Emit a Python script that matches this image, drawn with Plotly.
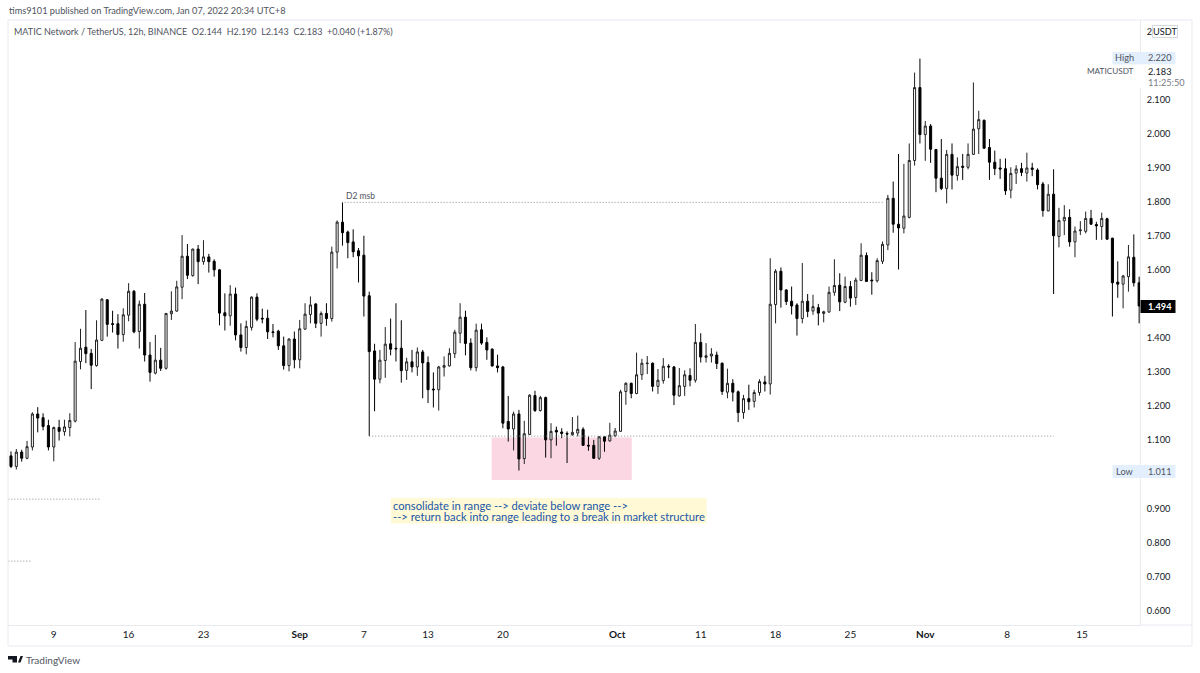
import plotly.graph_objects as go

# MATICUSDT 12h candles
opens = [1.054,1.023,1.065,1.047,1.080,1.177,1.166,1.143,1.080,1.137,
         1.125,1.137,1.156,1.331,1.373,1.355,1.319,1.393,1.512,1.442,
         1.442,1.410,1.467,1.537,1.419,1.499,1.350,1.297,1.335,1.311,
         1.471,1.479,1.549,1.640,1.583,1.661,1.624,1.638,1.625,1.600,
         1.474,1.465,1.529,1.409,1.372,1.431,1.520,1.458,1.458,1.418,
         1.420,1.377,1.319,1.397,1.336,1.426,1.469,1.500,1.443,1.472,
         1.457,1.652,1.740,1.711,1.682,1.656,1.643,1.524,1.362,1.279,
         1.334,1.383,1.370,1.370,1.305,1.330,1.315,1.359,1.328,1.250,
         1.248,1.314,1.318,1.354,1.414,1.461,1.385,1.313,1.424,1.387,
         1.367,1.318,1.315,1.155,1.133,1.177,1.046,1.117,1.231,1.187,
         1.225,1.101,1.129,1.124,1.120,1.116,1.121,1.132,1.085,1.085,
         1.047,1.110,1.098,1.113,1.126,1.243,1.267,1.237,1.292,1.325,
         1.326,1.258,1.275,1.317,1.315,1.230,1.258,1.290,1.276,1.387,
         1.343,1.347,1.350,1.326,1.241,1.267,1.242,1.181,1.222,1.214,
         1.240,1.271,1.265,1.498,1.596,1.541,1.508,1.497,1.457,1.508,
         1.479,1.489,1.472,1.476,1.534,1.555,1.505,1.551,1.519,1.569,
         1.642,1.570,1.568,1.625,1.673,1.810,1.734,1.722,1.754,1.921,
         2.135,1.997,2.022,1.953,1.869,1.839,1.939,1.877,1.904,1.901,
         1.939,2.014,2.039,1.959,1.916,1.899,1.897,1.834,1.884,1.897,
         1.884,1.899,1.893,1.852,1.773,1.822,1.698,1.744,1.754,1.682,
         1.715,1.713,1.751,1.733,1.727,1.750,1.693,1.564,1.558,1.580,
         1.637,1.562]
highs = [1.067,1.074,1.072,1.098,1.182,1.197,1.179,1.160,1.140,1.160,
         1.160,1.179,1.388,1.427,1.482,1.368,1.452,1.517,1.514,1.480,
         1.470,1.487,1.561,1.541,1.510,1.532,1.388,1.409,1.371,1.473,
         1.537,1.568,1.702,1.676,1.662,1.673,1.687,1.647,1.631,1.602,
         1.531,1.555,1.548,1.443,1.451,1.522,1.531,1.486,1.483,1.441,
         1.424,1.404,1.399,1.419,1.453,1.502,1.522,1.502,1.478,1.502,
         1.668,1.745,1.798,1.715,1.719,1.664,1.700,1.536,1.383,1.365,
         1.432,1.457,1.502,1.452,1.342,1.365,1.372,1.365,1.346,1.299,
         1.318,1.346,1.370,1.424,1.502,1.480,1.399,1.442,1.442,1.402,
         1.370,1.351,1.318,1.230,1.184,1.189,1.157,1.235,1.245,1.230,
         1.228,1.150,1.140,1.135,1.126,1.168,1.172,1.138,1.111,1.101,
         1.111,1.111,1.151,1.136,1.248,1.270,1.269,1.357,1.339,1.347,
         1.328,1.309,1.341,1.323,1.318,1.312,1.305,1.311,1.441,1.414,
         1.385,1.370,1.360,1.328,1.310,1.279,1.246,1.233,1.263,1.248,
         1.279,1.289,1.634,1.602,1.607,1.543,1.551,1.502,1.620,1.529,
         1.527,1.500,1.480,1.551,1.631,1.590,1.580,1.567,1.577,1.678,
         1.651,1.593,1.634,1.683,1.820,1.859,1.940,1.911,1.971,2.179,
         2.220,2.037,2.028,1.955,1.984,1.952,1.971,1.930,1.940,1.971,
         2.150,2.067,2.041,1.984,1.950,1.926,1.927,1.901,1.907,1.914,
         1.944,1.914,1.898,1.858,1.851,1.895,1.782,1.790,1.778,1.727,
         1.743,1.771,1.776,1.741,1.768,1.753,1.694,1.625,1.585,1.673,
         1.704,1.580]
lows = [1.018,1.014,1.037,1.044,1.070,1.123,1.129,1.070,1.038,1.099,
        1.113,1.111,1.152,1.308,1.326,1.250,1.316,1.391,1.404,1.416,
        1.369,1.389,1.449,1.414,1.369,1.331,1.272,1.293,1.303,1.307,
        1.453,1.477,1.514,1.573,1.580,1.558,1.615,1.592,1.580,1.437,
        1.422,1.436,1.393,1.360,1.352,1.422,1.449,1.443,1.397,1.402,
        1.365,1.307,1.302,1.311,1.311,1.424,1.443,1.429,1.404,1.436,
        1.448,1.604,1.671,1.634,1.637,1.563,1.463,1.112,1.185,1.267,
        1.283,1.349,1.331,1.269,1.277,1.299,1.289,1.223,1.209,1.196,
        1.187,1.287,1.316,1.341,1.385,1.349,1.305,1.302,1.380,1.336,
        1.316,1.299,1.135,1.096,1.070,1.011,1.030,1.115,1.183,1.184,
        1.049,1.047,1.084,1.106,1.033,1.113,1.111,1.084,1.069,1.045,
        1.042,1.066,1.096,1.109,1.125,1.204,1.223,1.235,1.277,1.294,
        1.243,1.236,1.266,1.282,1.203,1.228,1.230,1.258,1.269,1.328,
        1.328,1.328,1.309,1.233,1.223,1.214,1.153,1.163,1.189,1.196,
        1.231,1.243,1.234,1.443,1.489,1.497,1.469,1.407,1.443,1.461,
        1.468,1.437,1.446,1.475,1.524,1.479,1.502,1.492,1.497,1.567,
        1.565,1.527,1.563,1.617,1.658,1.709,1.601,1.707,1.751,1.906,
        1.971,1.920,1.914,1.828,1.834,1.795,1.836,1.862,1.864,1.895,
        1.937,1.940,1.955,1.864,1.878,1.867,1.820,1.810,1.852,1.875,
        1.859,1.875,1.836,1.756,1.772,1.529,1.666,1.702,1.668,1.637,
        1.702,1.707,1.732,1.688,1.688,1.688,1.463,1.518,1.487,1.536,
        1.551,1.443]
closes = [1.023,1.065,1.047,1.081,1.177,1.165,1.140,1.080,1.137,1.126,
          1.139,1.158,1.332,1.370,1.354,1.320,1.394,1.514,1.440,1.440,
          1.410,1.468,1.537,1.418,1.499,1.350,1.299,1.335,1.311,1.472,
          1.479,1.550,1.640,1.584,1.661,1.624,1.638,1.624,1.600,1.473,
          1.465,1.529,1.409,1.372,1.434,1.520,1.455,1.456,1.418,1.416,
          1.377,1.319,1.397,1.336,1.427,1.470,1.497,1.443,1.472,1.457,
          1.652,1.740,1.709,1.680,1.653,1.641,1.523,1.360,1.279,1.335,
          1.382,1.367,1.368,1.304,1.330,1.315,1.359,1.327,1.248,1.248,
          1.315,1.319,1.355,1.417,1.461,1.384,1.313,1.423,1.385,1.365,
          1.318,1.313,1.150,1.133,1.177,1.045,1.119,1.232,1.187,1.225,
          1.101,1.126,1.124,1.120,1.118,1.123,1.132,1.085,1.083,1.047,
          1.110,1.097,1.115,1.127,1.242,1.267,1.237,1.292,1.326,1.326,
          1.258,1.276,1.317,1.315,1.232,1.260,1.292,1.276,1.387,1.344,
          1.348,1.353,1.325,1.243,1.267,1.241,1.181,1.222,1.213,1.240,
          1.272,1.265,1.499,1.596,1.541,1.507,1.494,1.457,1.508,1.478,
          1.492,1.473,1.477,1.534,1.554,1.506,1.551,1.517,1.570,1.643,
          1.566,1.568,1.627,1.675,1.810,1.734,1.723,1.758,1.921,2.135,
          1.997,2.022,1.954,1.869,1.839,1.939,1.878,1.903,1.901,1.939,
          2.013,2.041,1.957,1.916,1.897,1.896,1.832,1.883,1.896,1.886,
          1.899,1.895,1.850,1.774,1.822,1.700,1.745,1.754,1.682,1.714,
          1.717,1.751,1.734,1.729,1.751,1.690,1.562,1.558,1.582,1.638,
          1.562,1.494]
candle_idx = list(range(len(closes)))

# axis labels (1.000, 1.500 and 2.200 sit under the price tags in the reference)
date_ticks = [8, 22, 36, 54, 66, 78, 92, 113.4, 129, 143, 157, 171, 186.3, 200.3]
date_labels = ["9", "16", "23", "<b>Sep</b>", "7", "13", "20", "<b>Oct</b>",
               "11", "18", "25", "<b>Nov</b>", "8", "15"]
price_ticks = [0.6, 0.7, 0.8, 0.9, 1.1, 1.2, 1.3, 1.4, 1.6, 1.7, 1.8, 1.9, 2.0, 2.1, 2.3]
price_labels = ["0.600", "0.700", "0.800", "0.900", "1.100", "1.200", "1.300",
                "1.400", "1.600", "1.700", "1.800", "1.900", "2.000", "2.100", "2"]

FONT = "Lato"
INK = "#131722"
GREY = "#50535e"
FRAME = "#e8eaf0"

# plot box in page pixels
L, R, T, B = 8, 1140.5, 20, 625


def px(x):
    return (x - L) / (R - L)


def py(y):
    return (B - y) / (B - T)


fig = go.Figure(go.Candlestick(
    x=candle_idx, open=opens, high=highs, low=lows, close=closes,
    increasing=dict(line=dict(color="#222222", width=1), fillcolor="#ffffff"),
    decreasing=dict(line=dict(color="#000000", width=1), fillcolor="#000000"),
    whiskerwidth=0,
    hoverinfo="skip",
))


def label(x, y, text, anchor="left", size=9.2, color=INK, **kw):
    fig.add_annotation(xref="paper", yref="paper", x=px(x), y=py(y), text=text,
                       showarrow=False, xanchor=anchor, yanchor="middle",
                       font=dict(family=FONT, size=size, color=color), borderpad=0, **kw)


def page_rect(x0, y0, x1, y1, color):
    fig.add_shape(type="rect", xref="paper", yref="paper", x0=px(x0), x1=px(x1), y0=py(y1), y1=py(y0),
                  fillcolor=color, line_width=0)


# range box and level lines, on the price scale
fig.add_shape(type="rect", x0=89.9, x1=116.1, y0=0.983, y1=1.108, layer="below",
              fillcolor="#fbd7e4", line_width=0)
dot = dict(color="#8a8d96", width=1, dash="1px,2px")
fig.add_shape(type="line", x0=62.4, x1=163.4, y0=1.798, y1=1.798, line=dot)
fig.add_shape(type="line", x0=67, x1=195, y0=1.112, y1=1.112, line=dot)
fig.add_shape(type="line", x0=-0.5, x1=16.8, y0=0.927, y1=0.927, line=dot)
fig.add_shape(type="line", x0=-0.5, x1=3.9, y0=0.745, y1=0.745, line=dot)

# outer frame
for x0, y0, x1, y1 in [(L, T, 1192.5, T), (L, T, L, 646), (1192.5, T, 1192.5, 646), (L, 646, 1192.5, 646),
                       (1140.5, 625, 1192.5, 625)]:
    fig.add_shape(type="line", xref="paper", yref="paper", x0=px(x0), x1=px(x1), y0=py(y0), y1=py(y1),
                  line=dict(color=FRAME, width=1))

# price scale tags
page_rect(1113, 52, 1176, 64.5, "#e3effd")
page_rect(1113, 465, 1176, 478, "#e3effd")
page_rect(1138, 64.5, 1185, 88, "#ffffff")
page_rect(1141, 300, 1176, 313, "#000000")

# note box
page_rect(391, 498, 707, 523.5, "#fff9d6")
label(392.5, 505.5, "consolidate in range --&gt; deviate below range --&gt;", size=11.2, color="#2157a8")
label(392.5, 516.5, "--&gt; return back into range leading to a break in market structure", size=11.2, color="#2157a8")

label(8, 10, "tims9101 published on TradingView.com, Jan 07, 2022 20:34 UTC+8", color=GREY)
label(13, 31, "MATIC Network / TetherUS, 12h, BINANCE  O2.144  H2.190  L2.143  C2.183  +0.040 (+1.87%)",
      size=9, color=GREY)
label(345, 196, "D2 msb", size=8.5, color=GREY)
label(1135, 58, "High", anchor="right", color=GREY)
label(1148, 58, "2.220", color=GREY)
label(1135, 71, "MATICUSDT", anchor="right", size=8.2, color=GREY)
label(1148, 71, "2.183")
label(1148, 82, "11:25:50", color="#787b86")
label(1135, 471, "Low", anchor="right", color=GREY)
label(1148, 471, "1.011", color=GREY)
label(1148, 306.5, "<b>1.494</b>", color="#ffffff")
label(1166, 32, "USDT", anchor="center", bgcolor="#ffffff", bordercolor="#d6d8e0", borderwidth=1)
label(25.5, 660, "TradingView", size=10, color=GREY)

# TradingView logo
for pts in [[(8, 656), (17, 656), (17, 662.5), (12.5, 662.5), (12.5, 659.5), (8, 659.5)],
            [(18, 662.5), (20.5, 656), (23, 656), (20.5, 662.5)]]:
    d = " ".join(("M" if i == 0 else "L") + f" {px(a):.5f} {py(b):.5f}" for i, (a, b) in enumerate(pts)) + " Z"
    fig.add_shape(type="path", xref="paper", yref="paper", path=d, fillcolor=INK, line_width=0)

fig.update_layout(
    width=1200, height=673,
    margin=dict(l=L, r=1200 - R, t=T, b=673 - B, pad=0),
    paper_bgcolor="white", plot_bgcolor="white",
    showlegend=False,
    boxgap=0.45,
    xaxis=dict(range=[-0.56, 211.16], rangeslider_visible=False, showgrid=False, zeroline=False,
               tickmode="array", tickvals=date_ticks, ticktext=date_labels, ticks="",
               showline=True, linecolor=FRAME, linewidth=1,
               tickfont=dict(family=FONT, size=10, color=INK)),
    yaxis=dict(range=[0.5576, 2.3333], side="right", showgrid=False, zeroline=False,
               tickmode="array", tickvals=price_ticks, ticktext=price_labels, ticks="",
               showline=True, linecolor=FRAME, linewidth=1, ticklabelstandoff=4,
               tickfont=dict(family=FONT, size=9.2, color=INK)),
)

fig.write_html("out.html", config=dict(displayModeBar=False), post_script="document.body.style.margin='0';")
